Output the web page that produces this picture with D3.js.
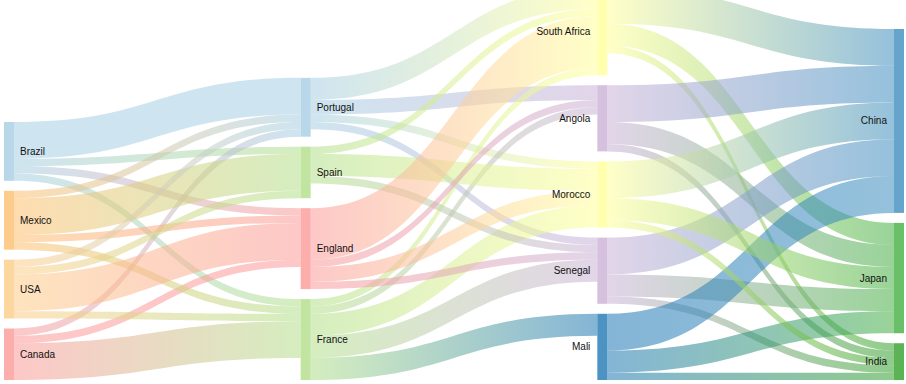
<!DOCTYPE html>
<html>
<head>
<meta charset="utf-8">
<script src="https://cdn.jsdelivr.net/npm/d3@7"></script>
<style>
  body { margin: 0; background: #fff; }
  text { font-family: "Liberation Sans", Arial, Helvetica, sans-serif; font-size: 10px; fill: #111; }
</style>
</head>
<body>
<svg width="906" height="384"></svg>
<script>
// node columns, top to bottom
const origins = ['Brazil', 'Mexico', 'USA', 'Canada'];
const hubs = ['Portugal', 'Spain', 'England', 'France'];
const africa = ['South Africa', 'Angola', 'Morocco', 'Senegal', 'Mali'];
const asia = ['China', 'Japan', 'India'];

// [source, target, value]
const flows = [
  ['Brazil', 'Portugal', 5], ['Brazil', 'France', 1], ['Brazil', 'Spain', 1], ['Brazil', 'England', 1],
  ['Canada', 'Portugal', 1], ['Canada', 'France', 5], ['Canada', 'England', 1],
  ['Mexico', 'Portugal', 1], ['Mexico', 'France', 1], ['Mexico', 'Spain', 5], ['Mexico', 'England', 1],
  ['USA', 'Portugal', 1], ['USA', 'France', 1], ['USA', 'Spain', 1], ['USA', 'England', 5],
  ['Portugal', 'Angola', 2], ['Portugal', 'Senegal', 1], ['Portugal', 'Morocco', 1], ['Portugal', 'South Africa', 3],
  ['France', 'Angola', 1], ['France', 'Senegal', 3], ['France', 'Mali', 3], ['France', 'Morocco', 3], ['France', 'South Africa', 1],
  ['Spain', 'Senegal', 1], ['Spain', 'Morocco', 3], ['Spain', 'South Africa', 1],
  ['England', 'Angola', 1], ['England', 'Senegal', 1], ['England', 'Morocco', 2], ['England', 'South Africa', 7],
  ['South Africa', 'China', 5], ['South Africa', 'India', 1], ['South Africa', 'Japan', 3],
  ['Angola', 'China', 5], ['Angola', 'India', 1], ['Angola', 'Japan', 3],
  ['Senegal', 'China', 5], ['Senegal', 'India', 1], ['Senegal', 'Japan', 3],
  ['Mali', 'China', 5], ['Mali', 'India', 1], ['Mali', 'Japan', 3],
  ['Morocco', 'China', 5], ['Morocco', 'India', 1], ['Morocco', 'Japan', 3]
];

const colors = {
  'Brazil': '#a6cee3', 'Mexico': '#fdbf6f', 'USA': '#fdcd88', 'Canada': '#fb9a99',
  'Portugal': '#a6cee3', 'Spain': '#b2df8a', 'England': '#fb9a99', 'France': '#b2df8a',
  'South Africa': '#ffff99', 'Angola': '#cab2d6', 'Morocco': '#ffff99', 'Senegal': '#cab2d6', 'Mali': '#1f78b4',
  'China': '#3e8ebf', 'Japan': '#45af44', 'India': '#33a02c'
};

const svg = d3.select('svg');
const width = +svg.attr('width');

const nodeW = 10;
const gap = 10;
const bottom = 380;

const columns = [origins, hubs, africa, asia];
const x = d3.scaleLinear().domain([0, columns.length - 1]).range([4, 894]);
const v = d3.scaleLinear().domain([0, 45]).range([0, 331]);

const nodeByName = new Map();
columns.forEach((col, ci) => {
  col.forEach(name => {
    nodeByName.set(name, { name, col: ci, inLinks: [], outLinks: [] });
  });
});

const links = flows.map(([s, t, value]) => {
  const l = { source: nodeByName.get(s), target: nodeByName.get(t), value };
  l.source.outLinks.push(l);
  l.target.inLinks.push(l);
  return l;
});

// node sizes + stacking from the bottom edge
columns.forEach((col, ci) => {
  const nodes = col.map(n => nodeByName.get(n));
  nodes.forEach(n => {
    n.value = Math.max(d3.sum(n.inLinks, l => l.value), d3.sum(n.outLinks, l => l.value));
    n.h = v(n.value);
    n.x0 = x(ci);
    n.x1 = n.x0 + nodeW;
  });
  let y = bottom - d3.sum(nodes, n => n.h) - gap * (nodes.length - 1);
  nodes.forEach(n => {
    n.y0 = y;
    n.y1 = y + n.h;
    y = n.y1 + gap;
  });
});

// link offsets inside each node
nodeByName.forEach(n => {
  n.outLinks.sort((a, b) => a.target.y0 - b.target.y0);
  n.inLinks.sort((a, b) => a.source.y0 - b.source.y0);
  let sy = n.y0;
  n.outLinks.forEach(l => { l.sy0 = sy; sy += v(l.value); l.sy1 = sy; });
  let ty = n.y0;
  n.inLinks.forEach(l => { l.ty0 = ty; ty += v(l.value); l.ty1 = ty; });
});

function bandPath(l) {
  const x0 = l.source.x1, x1 = l.target.x0, xm = (x0 + x1) / 2;
  return `M${x0},${l.sy0}C${xm},${l.sy0} ${xm},${l.ty0} ${x1},${l.ty0}` +
    `L${x1},${l.ty1}C${xm},${l.ty1} ${xm},${l.sy1} ${x0},${l.sy1}Z`;
}

const defs = svg.append('defs');
const grad = defs.selectAll('linearGradient')
  .data(links)
  .enter()
  .append('linearGradient')
  .attr('id', (d, i) => 'g' + i)
  .attr('gradientUnits', 'userSpaceOnUse')
  .attr('x1', d => d.source.x1)
  .attr('x2', d => d.target.x0)
  .attr('y1', 0)
  .attr('y2', 0);
grad.append('stop').attr('offset', '0%').attr('stop-color', d => colors[d.source.name]);
grad.append('stop').attr('offset', '100%').attr('stop-color', d => colors[d.target.name]);

svg.append('g')
  .attr('class', 'links')
  .selectAll('path')
  .data(links)
  .enter()
  .append('path')
  .attr('d', bandPath)
  .attr('fill', (d, i) => `url(#g${i})`)
  .attr('fill-opacity', 0.55);

const nodes = Array.from(nodeByName.values());

svg.append('g')
  .attr('class', 'nodes')
  .selectAll('rect')
  .data(nodes)
  .enter()
  .append('rect')
  .attr('x', d => d.x0)
  .attr('y', d => d.y0)
  .attr('width', nodeW)
  .attr('height', d => d.h)
  .attr('fill', d => colors[d.name])
  .attr('fill-opacity', 0.8);

svg.append('g')
  .attr('class', 'labels')
  .selectAll('text')
  .data(nodes)
  .enter()
  .append('text')
  .attr('x', d => d.x0 < width / 2 ? d.x1 + 6 : d.x0 - 7)
  .attr('y', d => (d.y0 + d.y1) / 2)
  .attr('dy', '0.35em')
  .attr('text-anchor', d => d.x0 < width / 2 ? 'start' : 'end')
  .text(d => d.name);
</script>
</body>
</html>
